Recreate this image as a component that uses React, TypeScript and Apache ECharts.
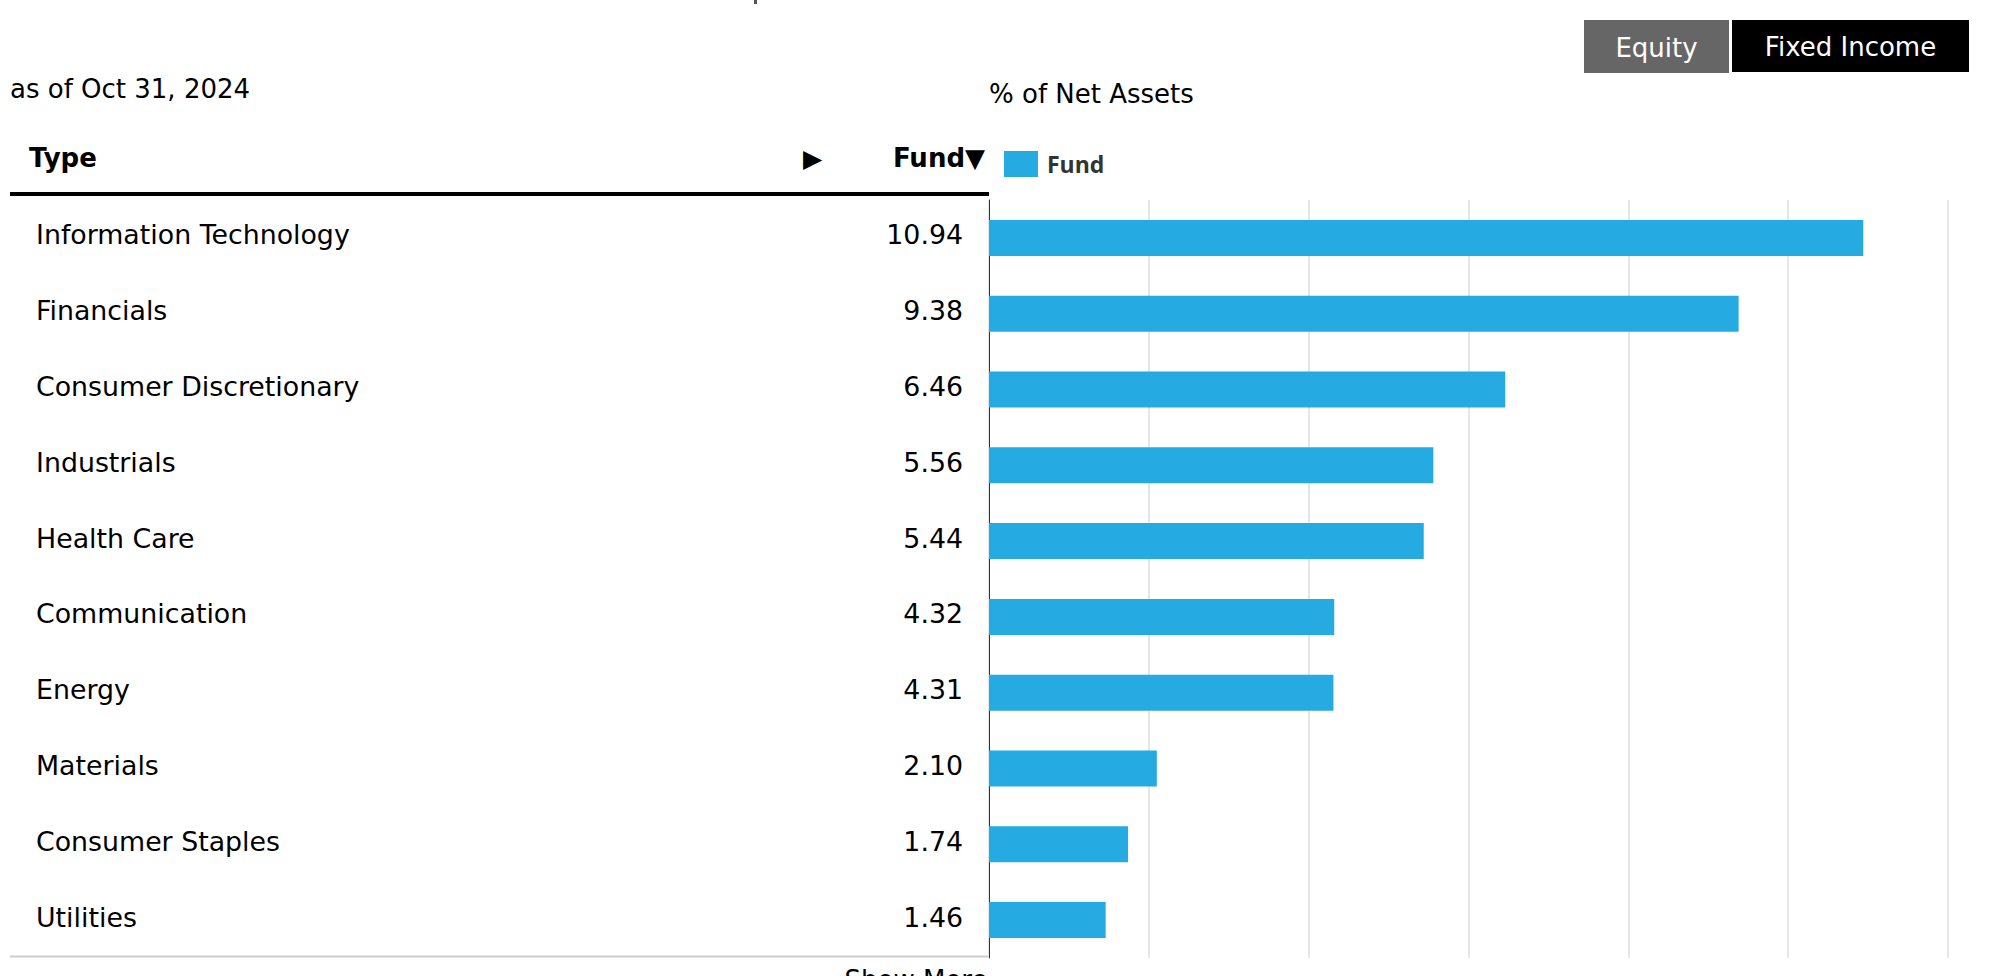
import React, { useEffect, useRef } from "react";
import * as echarts from "echarts";

const categories = [
  "Information Technology",
  "Financials",
  "Consumer Discretionary",
  "Industrials",
  "Health Care",
  "Communication",
  "Energy",
  "Materials",
  "Consumer Staples",
  "Utilities",
];
const fundValues = [10.94, 9.38, 6.46, 5.56, 5.44, 4.32, 4.31, 2.1, 1.74, 1.46];
const seriesName = "Fund";
const asOfText = "as of Oct 31, 2024";
const axisTitle = "% of Net Assets";
const tabLabels = ["Equity", "Fixed Income"];

const FONT = "'DejaVu Sans', Verdana, sans-serif";

export default function App() {
  const ref = useRef<HTMLDivElement>(null);
  useEffect(() => {
    document.body.style.margin = "0";
    const chart = echarts.init(ref.current!, null, { renderer: "svg" });
    const option: any = {
      animation: false,
      backgroundColor: "#fff",
      textStyle: { fontFamily: FONT },
      grid: { left: 989, top: 200, width: 959, height: 758, containLabel: false },
      legend: {
        data: [seriesName],
        left: 1004,
        top: 151,
        padding: 0,
        icon: "rect",
        itemWidth: 34,
        itemHeight: 26,
        selectedMode: false,
        textStyle: {
          fontFamily: "'Open Sans', 'Noto Sans', sans-serif",
          fontWeight: "bold",
          fontSize: 23,
          color: "#333",
          padding: [0, 0, 0, 4],
        },
      },
      xAxis: {
        type: "value",
        min: 0,
        max: 12,
        interval: 2,
        axisLabel: { show: false },
        axisLine: { show: false },
        axisTick: { show: false },
        splitLine: { show: true, lineStyle: { color: "#e6e6e6", width: 2 } },
      },
      yAxis: {
        type: "category",
        data: categories,
        inverse: true,
        axisTick: { show: false },
        axisLine: { show: true, lineStyle: { color: "#333", width: 1 } },
        axisLabel: {
          align: "left",
          verticalAlign: "middle",
          margin: 953,
          formatter: (v: string) => "{t|" + v + "}",
          rich: {
            t: {
              fontSize: 26.8,
              color: "#000",
              fontFamily: FONT,
              padding: [0, 0, 6, 0],
            },
          },
        },
      },
      series: [
        {
          name: seriesName,
          type: "bar",
          data: fundValues,
          barWidth: 36,
          itemStyle: { color: "#25aae1" },
          label: {
            show: true,
            position: "left",
            distance: 26,
            offset: [0, -3],
            fontSize: 26.8,
            color: "#000",
            fontFamily: FONT,
            formatter: (p: any) => Number(p.value).toFixed(2),
          },
        },
      ],
      graphic: [
        {
          type: "rect",
          shape: { x: 754, y: 0, width: 3, height: 4 },
          style: { fill: "#555" },
        },
        {
          type: "text",
          x: 10,
          y: 89,
          style: { text: asOfText, fontSize: 26, fill: "#000", fontFamily: FONT, verticalAlign: "middle" },
        },
        {
          type: "text",
          x: 989,
          y: 94,
          style: { text: axisTitle, fontSize: 26, fill: "#000", fontFamily: FONT, verticalAlign: "middle" },
        },
        {
          type: "text",
          x: 29,
          y: 158,
          style: {
            text: "Type",
            fontSize: 26,
            fontWeight: "bold",
            fill: "#000",
            fontFamily: FONT,
            verticalAlign: "middle",
          },
        },
        {
          type: "text",
          x: 803,
          y: 158,
          style: { text: "▶", fontSize: 25, fill: "#000", fontFamily: FONT, verticalAlign: "middle" },
        },
        {
          type: "text",
          x: 985,
          y: 158,
          style: {
            text: "Fund▼",
            fontSize: 26,
            fontWeight: "bold",
            fill: "#000",
            fontFamily: FONT,
            align: "right",
            verticalAlign: "middle",
          },
        },
        {
          type: "line",
          shape: { x1: 10, y1: 194, x2: 989, y2: 194 },
          style: { stroke: "#000", lineWidth: 4 },
        },
        {
          type: "line",
          shape: { x1: 10, y1: 956.5, x2: 989, y2: 956.5 },
          style: { stroke: "#cccccc", lineWidth: 2 },
        },
        {
          type: "rect",
          shape: { x: 1584, y: 20, width: 145, height: 53 },
          style: { fill: "#666666" },
        },
        {
          type: "text",
          x: 1656.5,
          y: 47.5,
          style: {
            text: tabLabels[0],
            fontSize: 26,
            fill: "#fff",
            fontFamily: FONT,
            align: "center",
            verticalAlign: "middle",
          },
        },
        {
          type: "rect",
          shape: { x: 1732, y: 20, width: 237, height: 52 },
          style: { fill: "#000" },
        },
        {
          type: "text",
          x: 1850.5,
          y: 47,
          style: {
            text: tabLabels[1],
            fontSize: 26,
            fill: "#fff",
            fontFamily: FONT,
            align: "center",
            verticalAlign: "middle",
          },
        },
        {
          type: "text",
          x: 916,
          y: 967,
          style: {
            text: "Show More",
            fontSize: 26,
            fill: "#000",
            fontFamily: FONT,
            align: "center",
            verticalAlign: "top",
          },
        },
      ],
    };
    chart.setOption(option);
    return () => chart.dispose();
  }, []);
  return (
    <div
      ref={ref}
      style={{ position: "fixed", left: 0, top: 0, width: 1990, height: 976 }}
    />
  );
}
